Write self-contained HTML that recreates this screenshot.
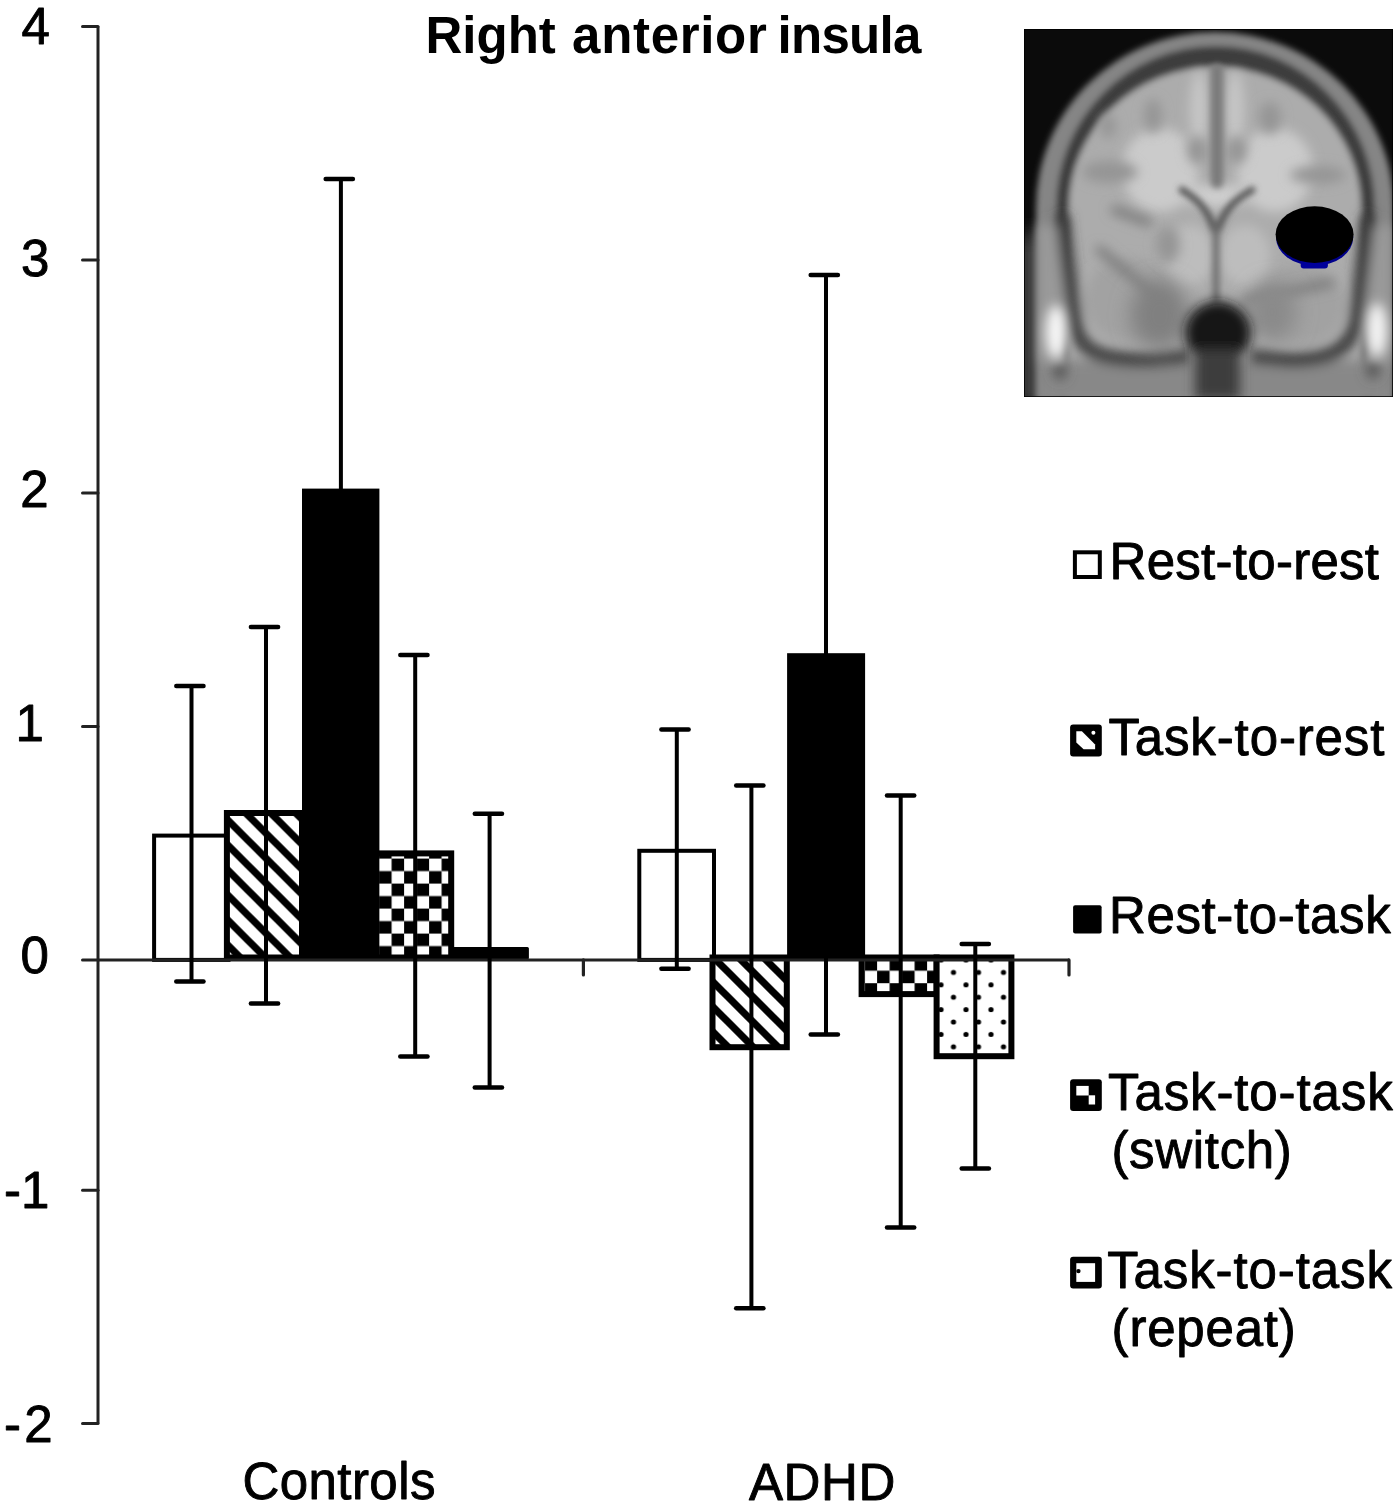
<!DOCTYPE html>
<html><head><meta charset="utf-8"><title>Right anterior insula</title>
<style>html,body{margin:0;padding:0;background:#fff;width:1400px;height:1506px;overflow:hidden}svg{display:block}</style>
</head><body>
<svg width="1400" height="1506" viewBox="0 0 1400 1506">
<defs>
 <pattern id="hatch1" patternUnits="userSpaceOnUse" x="0" y="17.3" width="25" height="25">
  <rect width="25" height="25" fill="#fff"/>
  <path d="M-6,-6 L31,31 M-6,19 L6,31 M19,-6 L31,6" stroke="#000" stroke-width="7.2"/>
 </pattern>
 <pattern id="hatch2" patternUnits="userSpaceOnUse" x="0" y="18.9" width="25" height="25">
  <rect width="25" height="25" fill="#fff"/>
  <path d="M-6,-6 L31,31 M-6,19 L6,31 M19,-6 L31,6" stroke="#000" stroke-width="7.2"/>
 </pattern>
 <pattern id="check1" patternUnits="userSpaceOnUse" x="379.1" y="858.6" width="25" height="25">
  <rect width="25" height="25" fill="#fff"/>
  <rect x="12.5" y="0" width="12.5" height="12.5" fill="#000"/>
  <rect x="0" y="12.5" width="12.5" height="12.5" fill="#000"/>
 </pattern>
 <pattern id="check2" patternUnits="userSpaceOnUse" x="877.1" y="958.2" width="25" height="25">
  <rect width="25" height="25" fill="#fff"/>
  <rect x="12.5" y="0" width="12.5" height="12.5" fill="#000"/>
  <rect x="0" y="12.5" width="12.5" height="12.5" fill="#000"/>
 </pattern>
 <pattern id="dots2" patternUnits="userSpaceOnUse" x="953.5" y="972.4" width="25" height="24.8">
  <rect width="25" height="24.8" fill="#fff"/>
  <circle cx="0" cy="0" r="2.6" fill="#000"/><circle cx="25" cy="0" r="2.6" fill="#000"/>
  <circle cx="0" cy="24.8" r="2.6" fill="#000"/><circle cx="25" cy="24.8" r="2.6" fill="#000"/>
  <circle cx="12.5" cy="12.4" r="2.6" fill="#000"/>
 </pattern>
 <filter id="b1" x="-20%" y="-20%" width="140%" height="140%"><feGaussianBlur stdDeviation="3"/></filter>
 <filter id="b2" x="-30%" y="-30%" width="160%" height="160%"><feGaussianBlur stdDeviation="6"/></filter>
 <filter id="b3" x="-50%" y="-50%" width="200%" height="200%"><feGaussianBlur stdDeviation="10"/></filter>
 <filter id="soft"><feGaussianBlur stdDeviation="0.6"/></filter>
 <clipPath id="brainclip"><rect x="1024" y="29" width="369" height="368"/></clipPath>
</defs>

<g clip-path="url(#brainclip)">
<rect x="1023" y="28" width="371" height="370" fill="#0b0b0b"/>
<rect x="1018" y="235" width="22" height="175" fill="#4a4a4a" filter="url(#b3)"/>
<g filter="url(#b1)">
<path d="M1036,420 L1036,208 A179.0,176 0 0 1 1394,208 L1394,420 Z" fill="#858585"/>
<path d="M1056,420 L1056,208 A159.5,162 0 0 1 1375,208 L1375,420 Z" fill="#3c3c3c"/>
<path d="M1069,420 L1069,208 A146.0,141 0 0 1 1361,208 L1361,420 Z" fill="#acacac"/>
</g>
<g filter="url(#b2)">
<rect x="1040" y="360" width="350" height="45" fill="#888"/>
<polygon points="1038,225 1056,225 1067,300 1067,362 1038,362" fill="#9a9a9a"/>
<polygon points="1392,225 1375,225 1364,300 1364,362 1392,362" fill="#9a9a9a"/>
<path d="M1062.5,215 C1066,260 1072,290 1075,325 C1080,352 1100,360 1150,360 L1190,356" stroke="#3a3a3a" stroke-width="14" fill="none"/>
<path d="M1368,215 C1364,260 1359,290 1356,325 C1348,350 1330,360 1290,360 L1250,356" stroke="#3a3a3a" stroke-width="14" fill="none"/>
<ellipse cx="1130" cy="300" rx="45" ry="42" fill="#a2a2a2"/>
<ellipse cx="1300" cy="305" rx="45" ry="40" fill="#a2a2a2"/>
</g>
<g filter="url(#b2)">
<ellipse cx="1160" cy="170" rx="38" ry="42" fill="#cbcbcb"/>
<ellipse cx="1275" cy="170" rx="38" ry="42" fill="#cbcbcb"/>
<ellipse cx="1216" cy="196" rx="34" ry="12" fill="#cecece"/>
<ellipse cx="1190" cy="255" rx="25" ry="30" fill="#bdbdbd"/>
<ellipse cx="1245" cy="255" rx="25" ry="30" fill="#bdbdbd"/>
<ellipse cx="1199" cy="110" rx="9" ry="40" fill="#c6c6c6"/>
<ellipse cx="1235" cy="110" rx="9" ry="40" fill="#c6c6c6"/>
</g>
<g filter="url(#b2)" fill="#959595">
<ellipse cx="1110" cy="172" rx="28" ry="11"/>
<ellipse cx="1153" cy="116" rx="9" ry="17"/>
<ellipse cx="1108" cy="126" rx="8" ry="12"/>
<ellipse cx="1270" cy="118" rx="11" ry="16"/>
<ellipse cx="1318" cy="175" rx="28" ry="9"/>
<ellipse cx="1197" cy="150" rx="10" ry="14"/>
<ellipse cx="1237" cy="150" rx="10" ry="14"/>
<ellipse cx="1168" cy="245" rx="12" ry="18"/>
</g>
<g filter="url(#b2)" stroke="#7c7c7c" stroke-width="9" fill="none" stroke-linecap="round">
<path d="M1115,210 L1148,222"/>
<path d="M1100,250 L1160,300"/>
<path d="M1245,301 L1330,283"/>
</g>
<g filter="url(#b1)" fill="none" stroke-linecap="round">
<path d="M1217,70 L1217,182" stroke="#7a7a7a" stroke-width="13"/>
<path d="M1182,190 C1195,198 1208,208 1214,230 M1252,190 C1238,198 1224,208 1218,230" stroke="#555" stroke-width="7"/>
<path d="M1216,228 L1216,300" stroke="#6e6e6e" stroke-width="7"/>
</g>
<ellipse cx="1160" cy="315" rx="30" ry="35" fill="#808080" filter="url(#b3)"/>
<ellipse cx="1272" cy="312" rx="25" ry="30" fill="#8a8a8a" filter="url(#b3)"/>
<g filter="url(#b2)">
<ellipse cx="1218" cy="333" rx="33" ry="32" fill="#121212"/>
<rect x="1195" y="350" width="45" height="50" fill="#3c3c3c"/>
<ellipse cx="1056" cy="332" rx="10" ry="27" fill="#f8f8f8"/>
<ellipse cx="1377" cy="330" rx="10" ry="27" fill="#f4f4f4"/>
<ellipse cx="1060" cy="371" rx="7" ry="9" fill="#555"/>
<ellipse cx="1373" cy="370" rx="7" ry="9" fill="#555"/>
</g>
<ellipse cx="1314.6" cy="237.2" rx="38.6" ry="28.6" fill="#00008c" filter="url(#soft)"/>
<rect x="1300.7" y="252" width="27.2" height="16.4" rx="3" fill="#00009a" filter="url(#soft)"/>
<ellipse cx="1314.6" cy="234.6" rx="39" ry="28.3" fill="#000" filter="url(#soft)"/>
<rect x="1024" y="29" width="369" height="368" fill="none" stroke="#000" stroke-width="1.6"/>
</g>
<line x1="98" y1="26.4" x2="98" y2="1423.4" stroke="#222" stroke-width="3"/>
<line x1="82.5" y1="26.4" x2="98" y2="26.4" stroke="#222" stroke-width="3" stroke-linecap="round"/>
<line x1="82.5" y1="259.9" x2="98" y2="259.9" stroke="#222" stroke-width="3" stroke-linecap="round"/>
<line x1="82.5" y1="493.1" x2="98" y2="493.1" stroke="#222" stroke-width="3" stroke-linecap="round"/>
<line x1="82.5" y1="726.6" x2="98" y2="726.6" stroke="#222" stroke-width="3" stroke-linecap="round"/>
<line x1="82.5" y1="959.9" x2="98" y2="959.9" stroke="#222" stroke-width="3" stroke-linecap="round"/>
<line x1="82.5" y1="1190.2" x2="98" y2="1190.2" stroke="#222" stroke-width="3" stroke-linecap="round"/>
<line x1="82.5" y1="1423.4" x2="98" y2="1423.4" stroke="#222" stroke-width="3" stroke-linecap="round"/>
<rect x="154.1" y="835.6" width="74.4" height="124.3" fill="#fff" stroke="#000" stroke-width="4"/>
<rect x="226.9" y="813" width="75.1" height="144.5" fill="url(#hatch1)" stroke="#000" stroke-width="6"/>
<rect x="302" y="488.6" width="77.4" height="471.3" fill="#000"/>
<rect x="376.3" y="853.4" width="74.9" height="104.10000000000002" fill="url(#check1)" stroke="#000" stroke-width="6"/>
<rect x="451.2" y="947.1" width="77.7" height="12.5" rx="1.5" fill="#000"/>
<rect x="639.3" y="850.8" width="74.7" height="109.1" fill="#fff" stroke="#000" stroke-width="4"/>
<rect x="712.5" y="957.5" width="74.3" height="89.70000000000005" fill="url(#hatch2)" stroke="#000" stroke-width="6"/>
<rect x="787.1" y="653.2" width="78" height="306.7" fill="#000"/>
<rect x="861.6" y="957.5" width="75" height="36.60000000000002" fill="url(#check2)" stroke="#000" stroke-width="6"/>
<rect x="936.6" y="957.5" width="74.8" height="98.70000000000005" fill="url(#dots2)" stroke="#000" stroke-width="6"/>
<line x1="98" y1="959.9" x2="1069" y2="959.9" stroke="#222" stroke-width="3"/>
<line x1="583.4" y1="959.9" x2="583.4" y2="975" stroke="#222" stroke-width="3.2" stroke-linecap="round"/>
<line x1="1069" y1="959.9" x2="1069" y2="975" stroke="#222" stroke-width="3.2" stroke-linecap="round"/>
<line x1="191.5" y1="686" x2="191.5" y2="981.5" stroke="#000" stroke-width="4"/>
<line x1="176.3" y1="686" x2="203.5" y2="686" stroke="#000" stroke-width="4.5" stroke-linecap="round"/>
<line x1="176.3" y1="981.5" x2="203.5" y2="981.5" stroke="#000" stroke-width="4.5" stroke-linecap="round"/>
<line x1="266" y1="627" x2="266" y2="1003.5" stroke="#000" stroke-width="4"/>
<line x1="250.9" y1="627" x2="278.1" y2="627" stroke="#000" stroke-width="4.5" stroke-linecap="round"/>
<line x1="250.9" y1="1003.5" x2="278.1" y2="1003.5" stroke="#000" stroke-width="4.5" stroke-linecap="round"/>
<line x1="340.9" y1="178.9" x2="340.9" y2="800" stroke="#000" stroke-width="4"/>
<line x1="325.7" y1="178.9" x2="352.90000000000003" y2="178.9" stroke="#000" stroke-width="4.5" stroke-linecap="round"/>
<line x1="325.7" y1="800" x2="352.90000000000003" y2="800" stroke="#000" stroke-width="4.5" stroke-linecap="round"/>
<line x1="415.2" y1="655" x2="415.2" y2="1056.5" stroke="#000" stroke-width="4"/>
<line x1="400.29999999999995" y1="655" x2="427.5" y2="655" stroke="#000" stroke-width="4.5" stroke-linecap="round"/>
<line x1="400.29999999999995" y1="1056.5" x2="427.5" y2="1056.5" stroke="#000" stroke-width="4.5" stroke-linecap="round"/>
<line x1="489.6" y1="813.7" x2="489.6" y2="1087.5" stroke="#000" stroke-width="4"/>
<line x1="474.79999999999995" y1="813.7" x2="502.0" y2="813.7" stroke="#000" stroke-width="4.5" stroke-linecap="round"/>
<line x1="474.79999999999995" y1="1087.5" x2="502.0" y2="1087.5" stroke="#000" stroke-width="4.5" stroke-linecap="round"/>
<line x1="676.8" y1="729.5" x2="676.8" y2="968.7" stroke="#000" stroke-width="4"/>
<line x1="661.4" y1="729.5" x2="688.6" y2="729.5" stroke="#000" stroke-width="4.5" stroke-linecap="round"/>
<line x1="661.4" y1="968.7" x2="688.6" y2="968.7" stroke="#000" stroke-width="4.5" stroke-linecap="round"/>
<line x1="751.4" y1="785.6" x2="751.4" y2="1308.2" stroke="#000" stroke-width="4"/>
<line x1="736.1999999999999" y1="785.6" x2="763.4" y2="785.6" stroke="#000" stroke-width="4.5" stroke-linecap="round"/>
<line x1="736.1999999999999" y1="1308.2" x2="763.4" y2="1308.2" stroke="#000" stroke-width="4.5" stroke-linecap="round"/>
<line x1="826" y1="275.1" x2="826" y2="1034.5" stroke="#000" stroke-width="4"/>
<line x1="810.6999999999999" y1="275.1" x2="837.9" y2="275.1" stroke="#000" stroke-width="4.5" stroke-linecap="round"/>
<line x1="810.6999999999999" y1="1034.5" x2="837.9" y2="1034.5" stroke="#000" stroke-width="4.5" stroke-linecap="round"/>
<line x1="900.7" y1="795.4" x2="900.7" y2="1227.4" stroke="#000" stroke-width="4"/>
<line x1="887.0" y1="795.4" x2="914.2" y2="795.4" stroke="#000" stroke-width="4.5" stroke-linecap="round"/>
<line x1="887.0" y1="1227.4" x2="914.2" y2="1227.4" stroke="#000" stroke-width="4.5" stroke-linecap="round"/>
<line x1="975.3" y1="943.9" x2="975.3" y2="1168.4" stroke="#000" stroke-width="4"/>
<line x1="961.6999999999999" y1="943.9" x2="988.9" y2="943.9" stroke="#000" stroke-width="4.5" stroke-linecap="round"/>
<line x1="961.6999999999999" y1="1168.4" x2="988.9" y2="1168.4" stroke="#000" stroke-width="4.5" stroke-linecap="round"/>
<rect x="1074.9" y="552.3" width="24.9" height="24.7" fill="#fff" stroke="#000" stroke-width="4"/>
<rect x="1070.1" y="724.6" width="31.7" height="31.8" rx="3" fill="#000"/>
<polygon points="1076.3,731.3 1081.9,731.3 1095.1,744.6 1095.1,749.3 1083.6,749.3 1076.3,742.4" fill="#fff"/>
<circle cx="1093.4" cy="732.8" r="2" fill="#fff"/>
<rect x="1073.1" y="905.3" width="28.5" height="28.3" rx="2" fill="#000"/>
<rect x="1070.1" y="1079.2" width="31.7" height="31.7" rx="3" fill="#000"/>
<rect x="1076.3" y="1085.9" width="12.4" height="9.6" fill="#fff"/>
<rect x="1088.7" y="1095.3" width="6.4" height="9.2" fill="#fff"/>
<rect x="1070.1" y="1256.8" width="31.7" height="31.7" rx="3" fill="#000"/>
<rect x="1076.3" y="1263.2" width="18.8" height="18.7" fill="#fff"/>
<circle cx="1078.4" cy="1271.1" r="2.2" fill="#000"/>
<g font-family="'Liberation Sans', Arial, sans-serif" fill="#000"><text y="53.00" font-size="51" font-weight="bold"><tspan x="425.50" letter-spacing="0.000">Right </tspan><tspan x="572.10" letter-spacing="0.686">anterior </tspan><tspan x="777.60" letter-spacing="-0.720">insula</tspan></text><text x="21.6" y="43.5" font-size="51" font-weight="normal" text-anchor="start" stroke="#000" stroke-width="0.9" stroke-linejoin="round">4</text><text x="21.0" y="276" font-size="51" font-weight="normal" text-anchor="start" stroke="#000" stroke-width="0.9" stroke-linejoin="round">3</text><text x="20.2" y="507.0" font-size="51" font-weight="normal" text-anchor="start" stroke="#000" stroke-width="0.9" stroke-linejoin="round">2</text><text x="15.6" y="740.5" font-size="51" font-weight="normal" text-anchor="start" stroke="#000" stroke-width="0.9" stroke-linejoin="round">1</text><text x="20.6" y="973.0" font-size="51" font-weight="normal" text-anchor="start" stroke="#000" stroke-width="0.9" stroke-linejoin="round">0</text><text x="4" y="1208.0" font-size="51" font-weight="normal" text-anchor="start" stroke="#000" stroke-width="0.9" stroke-linejoin="round">-1</text><text x="4" y="1441.5" font-size="51" font-weight="normal" text-anchor="start" letter-spacing="3.2" stroke="#000" stroke-width="0.9" stroke-linejoin="round">-2</text><text x="242.5" y="1499" font-size="51" font-weight="normal" text-anchor="start" letter-spacing="0.429" stroke="#000" stroke-width="0.9" stroke-linejoin="round">Controls</text><text x="748.9" y="1499.8" font-size="51" font-weight="normal" text-anchor="start" letter-spacing="0.667" stroke="#000" stroke-width="0.9" stroke-linejoin="round">ADHD</text><text x="1109.6" y="578.6" font-size="51" font-weight="normal" text-anchor="start" letter-spacing="0.273" stroke="#000" stroke-width="0.9" stroke-linejoin="round">Rest-to-rest</text><text x="1108.4" y="755.0" font-size="51" font-weight="normal" text-anchor="start" letter-spacing="0.873" stroke="#000" stroke-width="0.9" stroke-linejoin="round">Task-to-rest</text><text x="1109" y="933.2" font-size="51" font-weight="normal" text-anchor="start" letter-spacing="0.618" stroke="#000" stroke-width="0.9" stroke-linejoin="round">Rest-to-task</text><text x="1108.0" y="1110.0" font-size="51" font-weight="normal" text-anchor="start" letter-spacing="0.891" stroke="#000" stroke-width="0.9" stroke-linejoin="round">Task-to-task</text><text x="1111.4" y="1167.9" font-size="51" font-weight="normal" text-anchor="start" letter-spacing="0.686" stroke="#000" stroke-width="0.9" stroke-linejoin="round">(switch)</text><text x="1107.2" y="1287.8" font-size="51" font-weight="normal" text-anchor="start" letter-spacing="0.891" stroke="#000" stroke-width="0.9" stroke-linejoin="round">Task-to-task</text><text x="1111.6" y="1346.0" font-size="51" font-weight="normal" text-anchor="start" letter-spacing="0.8" stroke="#000" stroke-width="0.9" stroke-linejoin="round">(repeat)</text></g></svg>
</body></html>
